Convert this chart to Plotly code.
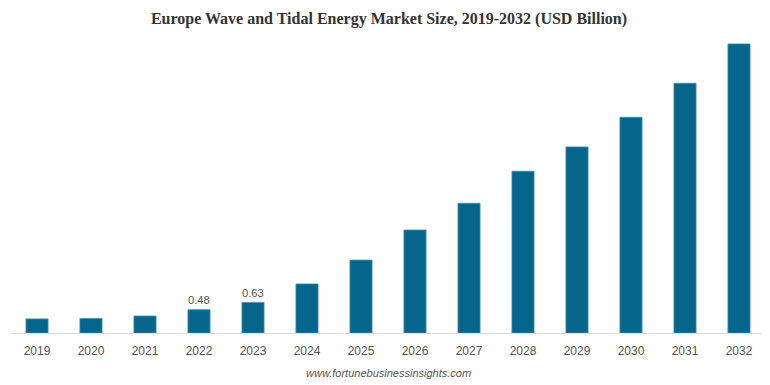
import plotly.graph_objects as go

years = ["2019", "2020", "2021", "2022", "2023", "2024", "2025", "2026",
         "2027", "2028", "2029", "2030", "2031", "2032"]
values = [0.29, 0.30, 0.35, 0.48, 0.63, 1.01, 1.50, 2.12, 2.67, 3.33, 3.83, 4.44, 5.14, 5.95]
labels = ["", "", "", "0.48", "0.63", "", "", "", "", "", "", "", "", ""]

fig = go.Figure(go.Bar(
    x=years, y=values, text=labels, textposition="outside",
    textfont=dict(family="Liberation Sans, Arial", size=12, color="#555555"),
    marker=dict(color="#06658b", line=dict(color="#4f91ae", width=0.8)),
    cliponaxis=False, hoverinfo="x+y",
))

fig.update_layout(
    width=762, height=377,
    margin=dict(l=2, r=4, t=32, b=52),
    paper_bgcolor="white", plot_bgcolor="white",
    bargap=0.59,
    showlegend=False,
    title=dict(text="<b>Europe Wave and Tidal Energy Market Size, 2019-2032 (USD Billion)</b>",
               x=0.5, xanchor="center", yref="container", y=0.9735, yanchor="middle",
               font=dict(family="Liberation Serif, Times New Roman", size=16, color="#333333")),
    xaxis=dict(showline=True, linecolor="#dddddd", linewidth=1,
               ticks="outside", ticklen=7, tickcolor="rgba(0,0,0,0)",
               tickfont=dict(family="Liberation Sans, Arial", size=12, color="#555555"),
               showgrid=False),
    yaxis=dict(visible=False, range=[0, 6.03], showgrid=False),
    annotations=[dict(text="<i>www.fortunebusinessinsights.com</i>", xref="paper", yref="paper",
                      x=0.5, y=-0.1365, xanchor="center", yanchor="middle", showarrow=False,
                      font=dict(family="Liberation Sans, Arial", size=11, color="#555555"))],
)

fig.write_html("out.html")
